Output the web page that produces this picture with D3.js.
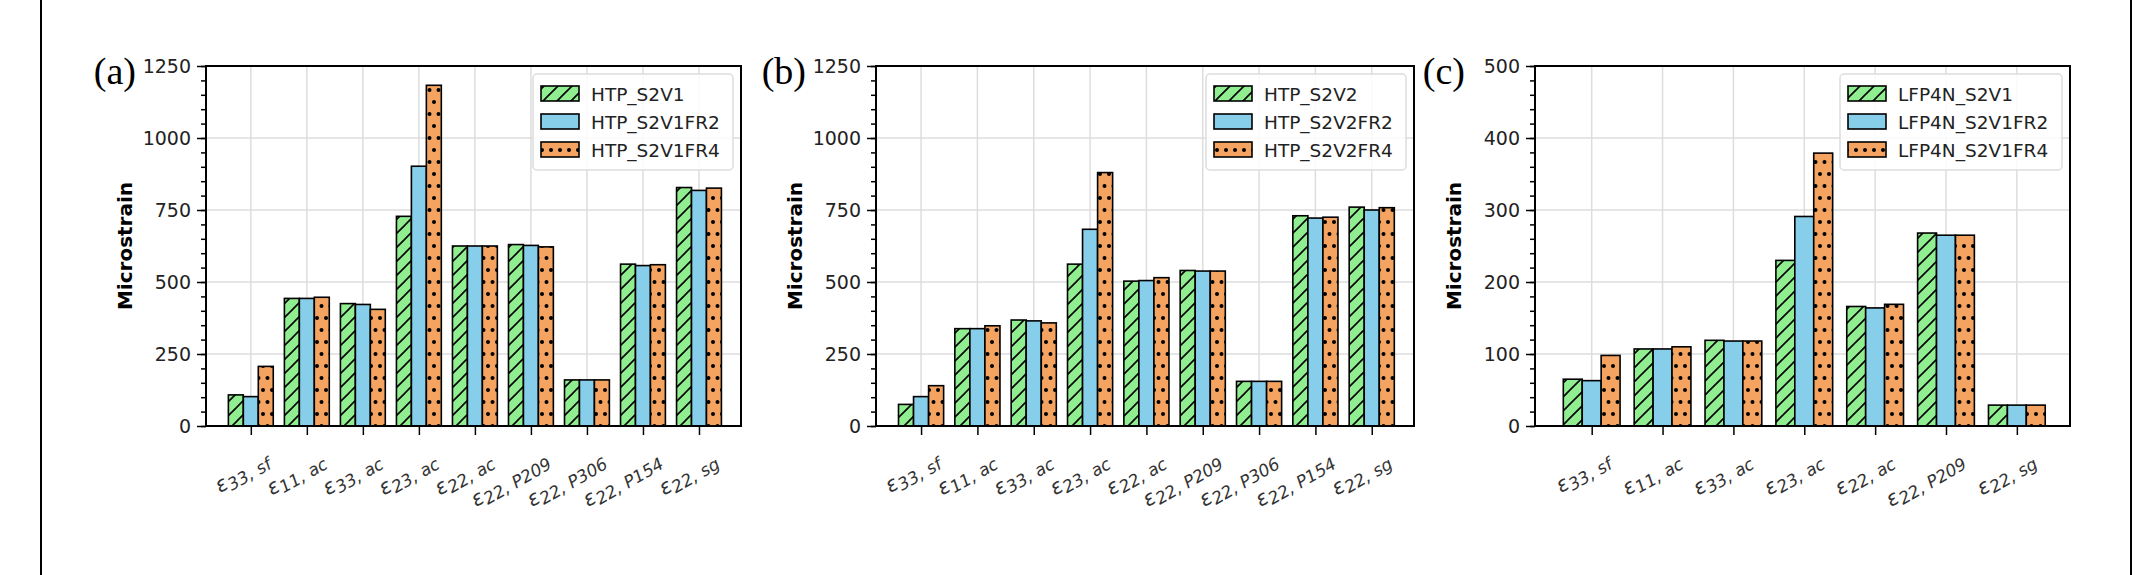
<!DOCTYPE html>
<html><head><meta charset="utf-8">
<script src="https://cdn.jsdelivr.net/npm/d3@7"></script>
<style>body{margin:0;background:#fff}svg{display:block}</style>
</head><body>
<svg id="chart" width="2150" height="575"></svg>
<script>
// --- data ---
const catsAB = ["33, sf","11, ac","33, ac","23, ac","22, ac","22, P209","22, P306","22, P154","22, sg"];
const catsC = ["33, sf","11, ac","33, ac","23, ac","22, ac","22, P209","22, sg"];

const seriesA = ["HTP_S2V1","HTP_S2V1FR2","HTP_S2V1FR4"];
const a1 = [108,443,425,728,625,630,160,562,828];
const a2 = [102,443,422,902,625,627,160,557,818];
const a3 = [207,447,405,1183,625,622,160,560,826];

const seriesB = ["HTP_S2V2","HTP_S2V2FR2","HTP_S2V2FR4"];
const b1 = [75,338,368,562,503,540,155,730,760];
const b2 = [102,338,365,683,505,538,155,722,750];
const b3 = [140,348,358,880,515,538,155,725,758];

const seriesC = ["LFP4N_S2V1","LFP4N_S2V1FR2","LFP4N_S2V1FR4"];
const c1 = [65,107,119,230,166,268,29];
const c2 = [63,107,118,291,164,265,29];
const c3 = [98,110,118,379,169,265,29];

const yTicksAB = [0,250,500,750,1000,1250];
const yTicksC = [0,100,200,300,400,500];

const svg = d3.select("#chart");
const fills = ["url(#hatch)","#87CEEB","url(#dots)"];

// patterns
const defs = svg.append("defs");
const h = defs.append("pattern").attr("id","hatch").attr("patternUnits","userSpaceOnUse")
  .attr("width",14).attr("height",14);
h.append("rect").attr("width",14).attr("height",14).attr("fill","#90EE90");
h.append("path").attr("d","M-2,16 L16,-2 M-9,9 L9,-9 M5,23 L23,5").attr("stroke","#000").attr("stroke-width",1.6);
const dp = defs.append("pattern").attr("id","dots").attr("patternUnits","userSpaceOnUse")
  .attr("width",9).attr("height",24);
dp.append("rect").attr("width",9).attr("height",24).attr("fill","#F4A460");
dp.append("circle").attr("cx",2).attr("cy",6).attr("r",2).attr("fill","#000");
dp.append("circle").attr("cx",6.5).attr("cy",18).attr("r",2).attr("fill","#000");

// frame
svg.append("line").attr("x1",41).attr("x2",41).attr("y1",0).attr("y2",575).attr("stroke","#000").attr("stroke-width",2);
svg.append("line").attr("x1",2131).attr("x2",2131).attr("y1",0).attr("y2",575).attr("stroke","#000").attr("stroke-width",2);

function panel(opt) {
  const {x0, x1, y0, y1, cats, vals, names, yMax, ticks, minor, letter} = opt;
  const n = cats.length;
  const x = d3.scaleLinear().domain([-0.8, n - 0.25]).range([x0, x1]);
  const y = d3.scaleLinear().domain([0, yMax]).range([y1, y0]);
  const g = svg.append("g");
  const step = x(1) - x(0), bw = step * 0.267;

  // grid
  g.selectAll(".gx").data(d3.range(n)).enter().append("line")
    .attr("x1", d => x(d)).attr("x2", d => x(d)).attr("y1", y0).attr("y2", y1)
    .attr("stroke", "#ddd").attr("stroke-width", 1.5);
  g.selectAll(".gy").data(ticks).enter().append("line")
    .attr("x1", x0).attr("x2", x1).attr("y1", d => y(d)).attr("y2", d => y(d))
    .attr("stroke", "#ddd").attr("stroke-width", 1.5);

  // bars
  vals.forEach((vs, s) => {
    g.selectAll(".b" + s).data(vs).enter().append("rect")
      .attr("x", (d, i) => x(i) + (s - 1.5) * bw)
      .attr("width", bw).attr("y", d => y(d)).attr("height", d => y1 - y(d))
      .attr("fill", fills[s]).attr("stroke", "#000").attr("stroke-width", 1.6);
  });

  // axes
  const ya = g.append("g").attr("transform", `translate(${x0},0)`)
    .call(d3.axisLeft(y).tickValues(ticks).tickSize(9).tickPadding(6).tickFormat(d3.format("d")));
  ya.selectAll("text").attr("font-family", "DejaVu Sans").attr("font-size", 19).attr("fill", "#222");
  g.append("g").attr("transform", `translate(${x0},0)`)
    .call(d3.axisLeft(y).tickValues(d3.range(0, yMax + 1, minor)).tickSize(5).tickFormat(""))
    .select(".domain").remove();
  g.append("g").attr("transform", `translate(0,${y1})`)
    .call(d3.axisBottom(x).tickValues(d3.range(n)).tickSize(9).tickFormat(""));
  g.selectAll(".domain").attr("stroke", "none");
  g.selectAll(".tick line").attr("stroke", "#000").attr("stroke-width", 1.5);
  g.append("rect").attr("x", x0).attr("y", y0).attr("width", x1 - x0).attr("height", y1 - y0)
    .attr("fill", "none").attr("stroke", "#000").attr("stroke-width", 2);

  // x labels
  cats.forEach((c, i) => {
    const t = g.append("text").attr("transform", `translate(${x(i) + 20},${y1 + 38}) rotate(-30)`)
      .attr("text-anchor", "end").attr("font-family", "DejaVu Sans").attr("font-style", "italic")
      .attr("font-size", 21).attr("fill", "#333");
    t.append("tspan").text("ε");
    t.append("tspan").attr("font-size", 17).attr("dy", 4).text(c);
  });

  g.append("text").attr("transform", `translate(${x0 - 74},${(y0 + y1) / 2}) rotate(-90)`)
    .attr("text-anchor", "middle").attr("font-family", "DejaVu Sans").attr("font-weight", "bold")
    .attr("font-size", 20).text("Microstrain");
  g.append("text").attr("x", x0 - 70).attr("y", y0 + 18).attr("text-anchor", "end")
    .attr("font-family", "Liberation Serif").attr("font-size", 38).text(`(${letter})`);

  // legend
  const lw = letter === "c" ? 222 : 200, lx = x1 - lw - 8, ly = y0 + 8;
  g.append("rect").attr("x", lx).attr("y", ly).attr("width", lw).attr("height", 96).attr("rx", 4)
    .attr("fill", "#fff").attr("fill-opacity", 0.85).attr("stroke", "#ddd").attr("stroke-width", 1.5);
  names.forEach((nm, s) => {
    g.append("rect").attr("x", lx + 8).attr("y", ly + 12 + s * 28).attr("width", 38).attr("height", 15)
      .attr("fill", fills[s]).attr("stroke", "#000").attr("stroke-width", 1.6);
    g.append("text").attr("x", lx + 58).attr("y", ly + 27 + s * 28)
      .attr("font-family", "DejaVu Sans").attr("font-size", 18.5).attr("fill", "#222").text(nm);
  });
}

panel({x0:206, x1:741, y0:66, y1:426, cats:catsAB, vals:[a1,a2,a3], names:seriesA, yMax:1250, ticks:yTicksAB, minor:50, letter:"a"});
panel({x0:876, x1:1414, y0:66, y1:426, cats:catsAB, vals:[b1,b2,b3], names:seriesB, yMax:1250, ticks:yTicksAB, minor:50, letter:"b"});
panel({x0:1535, x1:2070, y0:66, y1:426, cats:catsC, vals:[c1,c2,c3], names:seriesC, yMax:500, ticks:yTicksC, minor:20, letter:"c"});
</script>
</body></html>
